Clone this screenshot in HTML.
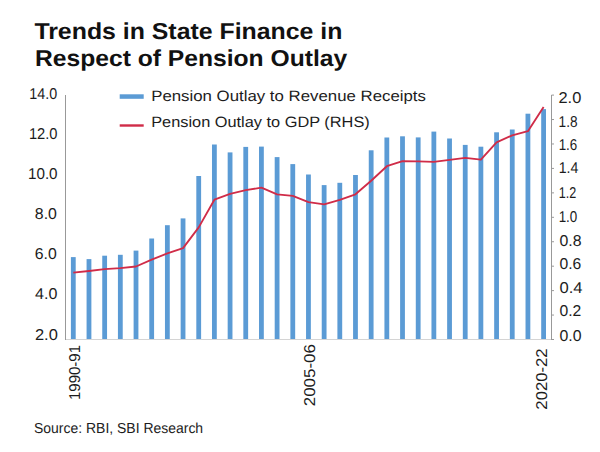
<!DOCTYPE html>
<html><head><meta charset="utf-8"><style>
html,body{margin:0;padding:0;background:#fff;}
body{width:600px;height:452px;overflow:hidden;position:relative;}
svg{position:absolute;left:0;top:0;}
text{font-family:"Liberation Sans",sans-serif;fill:#1c1c1c;text-rendering:geometricPrecision;}
text.ti{fill:#111;}
</style></head><body>
<svg width="600" height="452" viewBox="0 0 600 452">
<rect x="0" y="0" width="600" height="452" fill="#ffffff"/>
<text id="T1" x="34.40" y="38.60" font-size="23.00" textLength="308.01" lengthAdjust="spacingAndGlyphs" font-weight="bold" class="ti">Trends in State Finance in</text><text id="T2" x="35.00" y="65.80" font-size="23.00" textLength="312.20" lengthAdjust="spacingAndGlyphs" font-weight="bold" class="ti">Respect of Pension Outlay</text>
<rect x="70.90" y="257.10" width="4.8" height="81.90" fill="#5b9bd5"/><rect x="86.58" y="259.10" width="4.8" height="79.90" fill="#5b9bd5"/><rect x="102.25" y="255.70" width="4.8" height="83.30" fill="#5b9bd5"/><rect x="117.93" y="254.80" width="4.8" height="84.20" fill="#5b9bd5"/><rect x="133.61" y="250.60" width="4.8" height="88.40" fill="#5b9bd5"/><rect x="149.28" y="238.50" width="4.8" height="100.50" fill="#5b9bd5"/><rect x="164.96" y="225.20" width="4.8" height="113.80" fill="#5b9bd5"/><rect x="180.64" y="218.40" width="4.8" height="120.60" fill="#5b9bd5"/><rect x="196.31" y="176.00" width="4.8" height="163.00" fill="#5b9bd5"/><rect x="211.99" y="144.50" width="4.8" height="194.50" fill="#5b9bd5"/><rect x="227.67" y="152.40" width="4.8" height="186.60" fill="#5b9bd5"/><rect x="243.34" y="146.90" width="4.8" height="192.10" fill="#5b9bd5"/><rect x="259.02" y="146.60" width="4.8" height="192.40" fill="#5b9bd5"/><rect x="274.70" y="157.10" width="4.8" height="181.90" fill="#5b9bd5"/><rect x="290.37" y="164.10" width="4.8" height="174.90" fill="#5b9bd5"/><rect x="306.05" y="174.50" width="4.8" height="164.50" fill="#5b9bd5"/><rect x="321.73" y="185.10" width="4.8" height="153.90" fill="#5b9bd5"/><rect x="337.40" y="182.80" width="4.8" height="156.20" fill="#5b9bd5"/><rect x="353.08" y="175.00" width="4.8" height="164.00" fill="#5b9bd5"/><rect x="368.76" y="150.30" width="4.8" height="188.70" fill="#5b9bd5"/><rect x="384.43" y="137.50" width="4.8" height="201.50" fill="#5b9bd5"/><rect x="400.11" y="136.30" width="4.8" height="202.70" fill="#5b9bd5"/><rect x="415.79" y="137.40" width="4.8" height="201.60" fill="#5b9bd5"/><rect x="431.46" y="131.60" width="4.8" height="207.40" fill="#5b9bd5"/><rect x="447.14" y="138.50" width="4.8" height="200.50" fill="#5b9bd5"/><rect x="462.82" y="144.90" width="4.8" height="194.10" fill="#5b9bd5"/><rect x="478.49" y="146.70" width="4.8" height="192.30" fill="#5b9bd5"/><rect x="494.17" y="132.30" width="4.8" height="206.70" fill="#5b9bd5"/><rect x="509.85" y="129.50" width="4.8" height="209.50" fill="#5b9bd5"/><rect x="525.52" y="113.70" width="4.8" height="225.30" fill="#5b9bd5"/><rect x="541.20" y="109.10" width="4.8" height="229.90" fill="#5b9bd5"/>
<line x1="65.5" y1="95.0" x2="65.5" y2="340.0" stroke="#999999" stroke-width="1"/><line x1="551.5" y1="95.0" x2="551.5" y2="340.0" stroke="#999999" stroke-width="1"/><line x1="66.0" y1="339.5" x2="551.0" y2="339.5" stroke="#d4d4d4" stroke-width="1"/><line x1="551.5" y1="95.10" x2="554.0" y2="95.10" stroke="#999999" stroke-width="1"/><line x1="551.5" y1="119.54" x2="554.0" y2="119.54" stroke="#999999" stroke-width="1"/><line x1="551.5" y1="143.98" x2="554.0" y2="143.98" stroke="#999999" stroke-width="1"/><line x1="551.5" y1="168.42" x2="554.0" y2="168.42" stroke="#999999" stroke-width="1"/><line x1="551.5" y1="192.86" x2="554.0" y2="192.86" stroke="#999999" stroke-width="1"/><line x1="551.5" y1="217.30" x2="554.0" y2="217.30" stroke="#999999" stroke-width="1"/><line x1="551.5" y1="241.74" x2="554.0" y2="241.74" stroke="#999999" stroke-width="1"/><line x1="551.5" y1="266.18" x2="554.0" y2="266.18" stroke="#999999" stroke-width="1"/><line x1="551.5" y1="290.62" x2="554.0" y2="290.62" stroke="#999999" stroke-width="1"/><line x1="551.5" y1="315.06" x2="554.0" y2="315.06" stroke="#999999" stroke-width="1"/><line x1="551.5" y1="339.50" x2="554.0" y2="339.50" stroke="#999999" stroke-width="1"/>
<polyline points="73.30,272.70 88.98,271.00 104.65,269.20 120.33,268.10 136.01,266.50 151.68,259.70 167.36,253.40 183.04,248.10 198.71,227.40 214.39,199.70 230.07,193.90 245.74,190.20 261.42,187.60 277.10,194.40 292.77,195.90 308.45,202.20 324.13,204.40 339.80,199.80 355.48,194.30 371.16,180.80 386.83,166.20 402.51,161.10 418.19,161.40 433.86,161.90 449.54,159.80 465.22,157.80 480.89,159.70 496.57,142.30 512.25,135.30 527.92,131.20 543.60,106.90" fill="none" stroke="#d02c48" stroke-width="1.85" stroke-linejoin="round"/>
<rect x="119.7" y="94.3" width="24" height="4.5" fill="#5b9bd5"/>
<rect x="119.7" y="124.3" width="24" height="2.4" fill="#d02c48"/>
<text id="G1" x="151.20" y="101.29" font-size="15.00" textLength="274.72" lengthAdjust="spacingAndGlyphs">Pension Outlay to Revenue Receipts</text><text id="G2" x="151.19" y="126.51" font-size="15.00" textLength="218.57" lengthAdjust="spacingAndGlyphs">Pension Outlay to GDP (RHS)</text>
<text id="L0" x="29.24" y="99.20" font-size="15.70" textLength="27.88" lengthAdjust="spacingAndGlyphs">14.0</text><text id="L1" x="28.92" y="139.27" font-size="15.70" textLength="28.67" lengthAdjust="spacingAndGlyphs">12.0</text><text id="L2" x="27.93" y="179.27" font-size="15.70" textLength="29.69" lengthAdjust="spacingAndGlyphs">10.0</text><text id="L3" x="34.89" y="219.20" font-size="15.70" textLength="22.06" lengthAdjust="spacingAndGlyphs">8.0</text><text id="L4" x="34.81" y="259.20" font-size="15.70" textLength="21.96" lengthAdjust="spacingAndGlyphs">6.0</text><text id="L5" x="35.00" y="298.71" font-size="15.70" textLength="22.35" lengthAdjust="spacingAndGlyphs">4.0</text><text id="L6" x="34.95" y="339.76" font-size="15.70" textLength="22.90" lengthAdjust="spacingAndGlyphs">2.0</text><text id="R0" x="558.48" y="102.74" font-size="15.70" textLength="22.82" lengthAdjust="spacingAndGlyphs">2.0</text><text id="R1" x="558.55" y="126.51" font-size="15.70" textLength="18.99" lengthAdjust="spacingAndGlyphs">1.8</text><text id="R2" x="558.68" y="150.28" font-size="15.70" textLength="18.61" lengthAdjust="spacingAndGlyphs">1.6</text><text id="R3" x="558.66" y="173.35" font-size="15.70" textLength="19.67" lengthAdjust="spacingAndGlyphs">1.4</text><text id="R4" x="558.73" y="197.89" font-size="15.70" textLength="17.54" lengthAdjust="spacingAndGlyphs">1.2</text><text id="R5" x="558.68" y="221.73" font-size="15.70" textLength="18.61" lengthAdjust="spacingAndGlyphs">1.0</text><text id="R6" x="559.47" y="245.57" font-size="15.70" textLength="22.05" lengthAdjust="spacingAndGlyphs">0.8</text><text id="R7" x="559.50" y="269.41" font-size="15.70" textLength="21.81" lengthAdjust="spacingAndGlyphs">0.6</text><text id="R8" x="559.44" y="292.55" font-size="15.70" textLength="23.10" lengthAdjust="spacingAndGlyphs">0.4</text><text id="R9" x="559.53" y="316.39" font-size="15.70" textLength="21.85" lengthAdjust="spacingAndGlyphs">0.2</text><text id="R10" x="559.47" y="341.00" font-size="15.70" textLength="22.05" lengthAdjust="spacingAndGlyphs">0.0</text><text id="X0" transform="translate(80.17,400.03) rotate(-90)" font-size="15.70" textLength="55.06" lengthAdjust="spacingAndGlyphs">1990-91</text><text id="X1" transform="translate(314.66,406.25) rotate(-90)" font-size="15.70" textLength="62.10" lengthAdjust="spacingAndGlyphs">2005-06</text><text id="X2" transform="translate(547.00,409.64) rotate(-90)" font-size="15.70" textLength="61.17" lengthAdjust="spacingAndGlyphs">2020-22</text>
<text id="S" x="34.00" y="433.00" font-size="14.50" textLength="169.14" lengthAdjust="spacingAndGlyphs">Source: RBI, SBI Research</text>
</svg>
</body></html>
